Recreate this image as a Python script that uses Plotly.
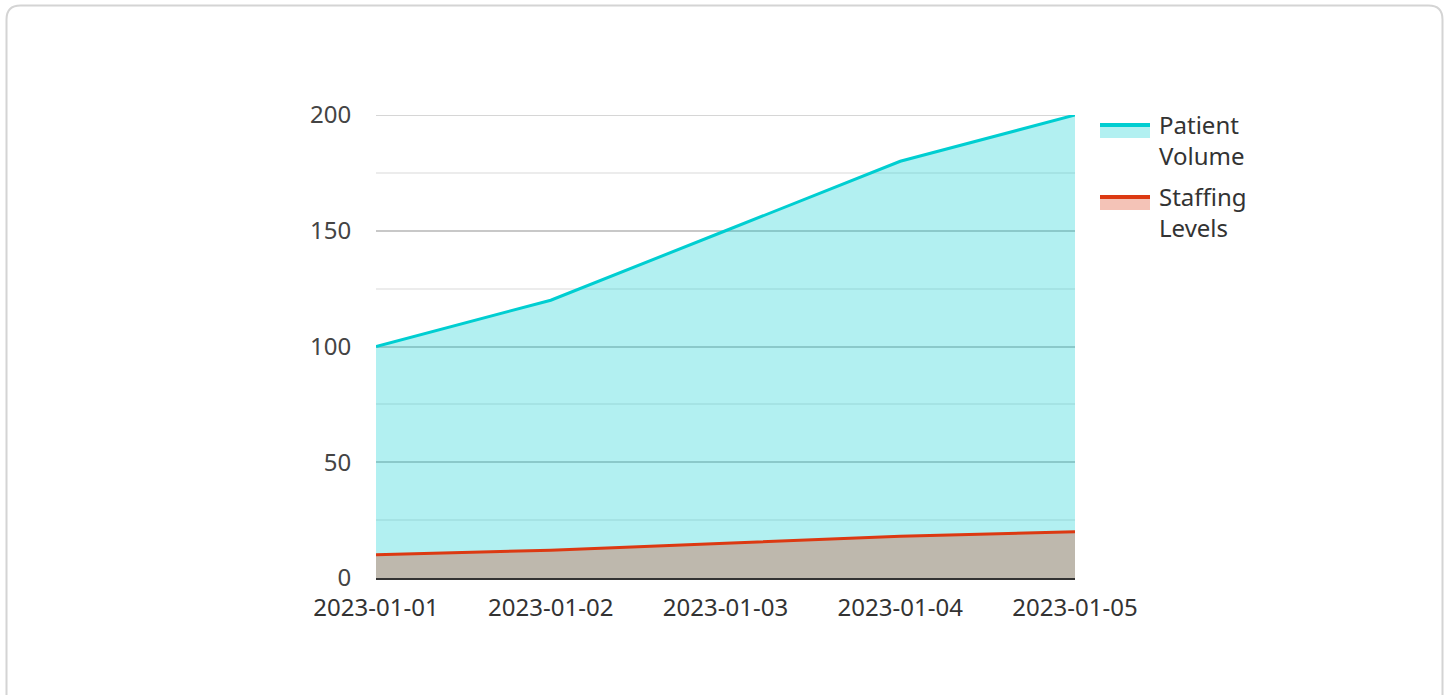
import plotly.graph_objects as go

dates = ["2023-01-01", "2023-01-02", "2023-01-03", "2023-01-04", "2023-01-05"]
patient_volume = [100, 120, 150, 180, 200]
staffing_levels = [10, 12, 15, 18, 20]
series_names = ["Patient<br>Volume", "Staffing<br>Levels"]
series_colors = ["#00CED1", "#DC3912"]
series_fills = ["rgba(0,206,209,0.3)", "rgba(220,57,18,0.3)"]
y_ticks = [0, 50, 100, 150, 200]

W, H = 1449, 695
L, R, T, B = 376, 374, 115, 117
pw, ph = W - L - R, H - T - B


def px(x):
    return (x - L) / pw


def py(y):
    return (H - B - y) / ph


fig = go.Figure()
for vals, name, col, fc in zip([patient_volume, staffing_levels], series_names,
                               series_colors, series_fills):
    fig.add_trace(go.Scatter(
        x=dates, y=vals, name=name.replace("<br>", " "), mode="lines",
        line=dict(color=col, width=3), fill="tozeroy", fillcolor=fc,
        showlegend=False))

# rounded border around the page
x0, x1, y0, y1, r = 6.5, 1442.5, 5.5, 720, 14
rx, ry = r / pw, r / ph
path = (f"M {px(x0)+rx},{py(y0)} L {px(x1)-rx},{py(y0)} "
        f"Q {px(x1)},{py(y0)} {px(x1)},{py(y0)-ry} "
        f"L {px(x1)},{py(y1)+ry} Q {px(x1)},{py(y1)} {px(x1)-rx},{py(y1)} "
        f"L {px(x0)+rx},{py(y1)} Q {px(x0)},{py(y1)} {px(x0)},{py(y1)+ry} "
        f"L {px(x0)},{py(y0)-ry} Q {px(x0)},{py(y0)} {px(x0)+rx},{py(y0)} Z")
fig.add_shape(type="path", path=path, xref="paper", yref="paper",
              line=dict(color="#d4d4d4", width=2), layer="below")

# top gridline (plotly drops the gridline at the exact range edge)
fig.add_shape(type="line", xref="paper", yref="y", x0=0, x1=1,
              y0=y_ticks[-1], y1=y_ticks[-1],
              line=dict(color="#c8c8c8", width=1.5), layer="below")

# custom legend (symbol: fill box with line on top, wrapped label)
leg_top = [123, 195]
for i, (name, col, fc) in enumerate(zip(series_names, series_colors, series_fills)):
    t = leg_top[i]
    fig.add_shape(type="rect", xref="paper", yref="paper",
                  x0=px(1100), x1=px(1150), y0=py(t + 15), y1=py(t),
                  fillcolor=fc, line=dict(width=0))
    fig.add_shape(type="line", xref="paper", yref="paper",
                  x0=px(1100), x1=px(1150), y0=py(t + 2), y1=py(t + 2),
                  line=dict(color=col, width=4))
    fig.add_annotation(xref="paper", yref="paper", x=px(1157), y=py(t + 17),
                       xanchor="left", yanchor="middle", align="left",
                       showarrow=False, text=name,
                       font=dict(size=24, color="#333"))

fig.update_layout(
    width=W, height=H,
    margin=dict(l=L, r=R, t=T, b=B),
    paper_bgcolor="white", plot_bgcolor="white",
    font=dict(family="Noto Sans", size=24, color="#444"),
    showlegend=False,
    xaxis=dict(type="category", range=[0, 4], showgrid=False,
               showline=True, linecolor="#333", linewidth=2,
               ticks="outside", ticklen=7, tickcolor="rgba(0,0,0,0)",
               tickfont=dict(size=24, color="#333")),
    yaxis=dict(range=[0, 200], tickvals=y_ticks, showgrid=True,
               gridcolor="#c8c8c8", gridwidth=1.5, zeroline=False,
               ticks="outside", ticklen=19, tickcolor="rgba(0,0,0,0)",
               tickfont=dict(size=24, color="#444"),
               minor=dict(dtick=25, showgrid=True, gridcolor="#ececec", gridwidth=1.5)),
)

fig.write_html("out.html", config={"displayModeBar": False},
               post_script="document.body.style.margin='0';")
